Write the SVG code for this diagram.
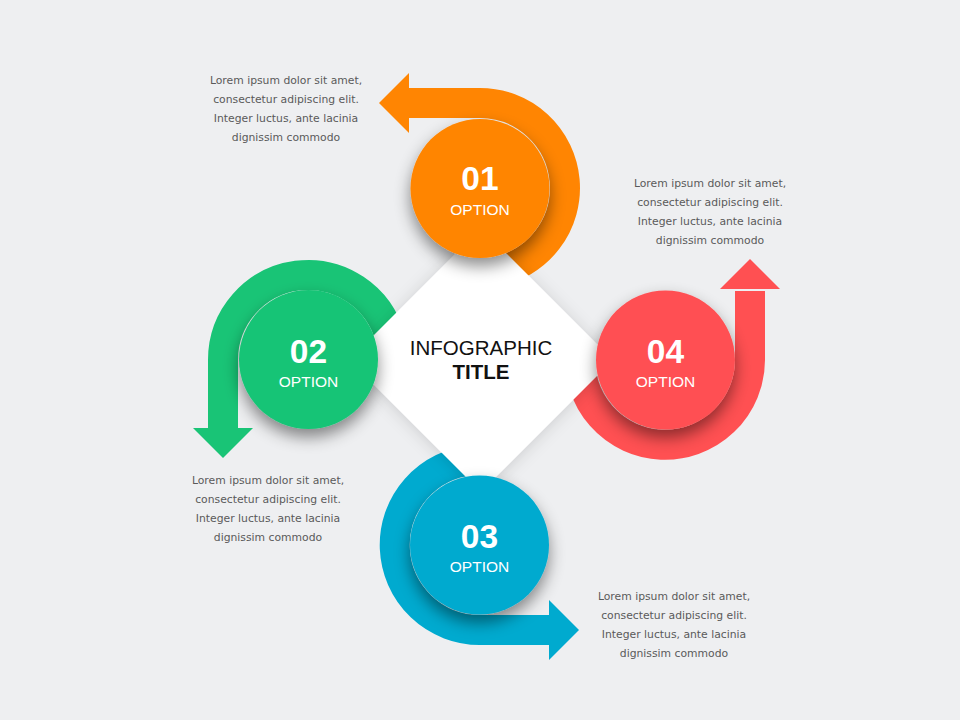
<svg xmlns="http://www.w3.org/2000/svg" width="960" height="720" viewBox="0 0 960 720">
<defs>
<filter id="cshadow" x="-50%" y="-50%" width="200%" height="200%">
<feDropShadow dx="0" dy="8" stdDeviation="8" flood-color="#000" flood-opacity="0.45"/>
</filter>
<filter id="dshadow" x="-30%" y="-30%" width="160%" height="160%">
<feDropShadow dx="0" dy="2" stdDeviation="8" flood-color="#000" flood-opacity="0.14"/>
</filter>
<style>
.band{fill:none;stroke-width:30;stroke-linecap:butt}
.num{font-family:"Liberation Sans",Arial,sans-serif;font-weight:bold;font-size:33.5px;fill:#fff;text-anchor:middle}
.opt{font-family:"Liberation Sans",Arial,sans-serif;font-size:15.5px;fill:#fff;text-anchor:middle}
.desc{font-family:"DejaVu Sans",Verdana,sans-serif;font-size:10.8px;fill:#5a5a5a;text-anchor:middle}
.title{font-family:"Liberation Sans",Arial,sans-serif;font-size:20.5px;fill:#111;text-anchor:middle}
</style>
</defs>
<rect width="960" height="720" fill="#EEEFF1"/>
<g id="connectors">
<path class="band" stroke="#FF8502" d="M 407 103 L 480 103 A 85 85 0 0 1 494.8 271.7"/>
<polygon fill="#FF8502" points="379,103 409,73 409,133"/>
<path class="band" stroke="#19C476" d="M 223 430 L 223 360 A 85 85 0 0 1 390.1 338"/>
<polygon fill="#19C476" points="193,428 253,428 223,458"/>
<path class="band" stroke="#FF5052" d="M 750 291 L 750 360 A 85 85 0 1 1 580.3 352.6"/>
<polygon fill="#FF5052" points="720,289 780,289 750,259"/>
<path class="band" stroke="#00AACF" d="M 551 630 L 480 630 A 85 85 0 0 1 472.6 460.3"/>
<polygon fill="#00AACF" points="549,600 549,660 579,630"/>
</g>
<g id="title">
<polygon fill="#fff" filter="url(#dshadow)" points="481,228 613,360 481,492 349,360"/>
<text class="title" x="481" y="355">INFOGRAPHIC</text>
<text class="title" x="481" y="379" font-weight="bold">TITLE</text>
</g>
<g id="option01">
<circle cx="480" cy="188.5" r="69.5" fill="#FF8502" filter="url(#cshadow)"/>
<text class="num" x="480" y="190">01</text>
<text class="opt" x="480" y="215">OPTION</text>
</g>
<g id="option02">
<circle cx="308.5" cy="359.5" r="69.5" fill="#19C476" filter="url(#cshadow)"/>
<text class="num" x="308.5" y="363">02</text>
<text class="opt" x="308.5" y="387">OPTION</text>
</g>
<g id="option03">
<circle cx="479.5" cy="545" r="69.5" fill="#00AACF" filter="url(#cshadow)"/>
<text class="num" x="479.5" y="548">03</text>
<text class="opt" x="479.5" y="572">OPTION</text>
</g>
<g id="option04">
<circle cx="665.5" cy="360" r="69.5" fill="#FF5052" filter="url(#cshadow)"/>
<text class="num" x="665.5" y="363">04</text>
<text class="opt" x="665.5" y="387">OPTION</text>
</g>
<g id="desc01">
<text class="desc" x="286" y="84">Lorem ipsum dolor sit amet,</text>
<text class="desc" x="286" y="103">consectetur adipiscing elit.</text>
<text class="desc" x="286" y="122">Integer luctus, ante lacinia</text>
<text class="desc" x="286" y="141">dignissim commodo</text>
</g>
<g id="desc04">
<text class="desc" x="710" y="187">Lorem ipsum dolor sit amet,</text>
<text class="desc" x="710" y="206">consectetur adipiscing elit.</text>
<text class="desc" x="710" y="225">Integer luctus, ante lacinia</text>
<text class="desc" x="710" y="244">dignissim commodo</text>
</g>
<g id="desc02">
<text class="desc" x="268" y="484">Lorem ipsum dolor sit amet,</text>
<text class="desc" x="268" y="503">consectetur adipiscing elit.</text>
<text class="desc" x="268" y="522">Integer luctus, ante lacinia</text>
<text class="desc" x="268" y="541">dignissim commodo</text>
</g>
<g id="desc03">
<text class="desc" x="674" y="600">Lorem ipsum dolor sit amet,</text>
<text class="desc" x="674" y="619">consectetur adipiscing elit.</text>
<text class="desc" x="674" y="638">Integer luctus, ante lacinia</text>
<text class="desc" x="674" y="657">dignissim commodo</text>
</g>
</svg>
